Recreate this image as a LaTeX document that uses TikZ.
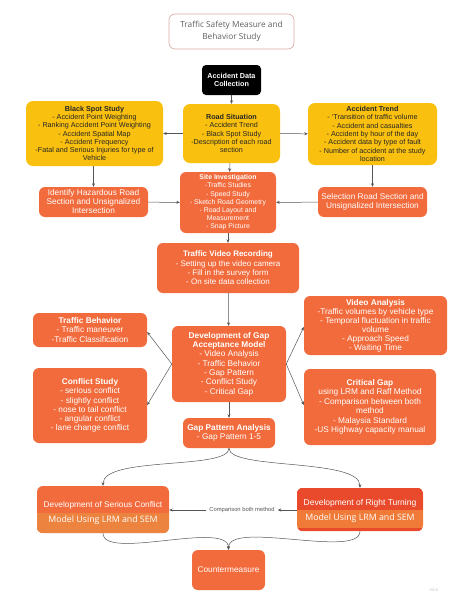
\documentclass[tikz,border=0pt]{standalone}
\usepackage{fontspec}
\setmainfont{Liberation Sans}
\newfontfamily\osans{Open Sans}
\usetikzlibrary{arrows.meta}
\definecolor{ylw}{HTML}{F9C00F}
\definecolor{org}{HTML}{F26B3C}
\definecolor{orgb}{HTML}{EC8440}
\definecolor{redt}{HTML}{E84A2B}
\definecolor{orgr}{HTML}{F07B38}
\definecolor{lineg}{HTML}{555555}
\definecolor{ttlb}{HTML}{D8A9A0}
\definecolor{ttlt}{HTML}{606060}
\tikzset{
  ybox/.style={fill=ylw, rounded corners=7pt, align=center, inner sep=1pt, text=black!85,
    font=\fontsize{7.2}{8.3}\selectfont},
  obox/.style={fill=org, rounded corners=6pt, align=center, inner sep=1pt, text=white,
    font=\fontsize{8.3}{9.3}\selectfont},
  conn/.style={draw=lineg, line width=0.5pt, -{Stealth[length=3.5pt,width=3pt]}},
  plain/.style={draw=none, fill=none, inner sep=0pt, align=center},
}
\begin{document}
\begin{tikzpicture}[x=1pt,y=-1pt]
\useasboundingbox (0,0) rectangle (474,606);
\fill[white] (0,0) rectangle (474,606);

% title
\node[draw=ttlb, line width=0.6pt, fill=white, rounded corners=6pt, align=center, text=ttlt,
  font=\osans\fontsize{8.3}{12}\selectfont, minimum width=125pt, minimum height=35pt]
  (title) at (231.5,31.5) {Traffic Safety Measure and\\Behavior Study};

% accident data collection
\node[fill=black, rounded corners=4pt, align=center, text=white, inner sep=1pt,
  font=\bfseries\fontsize{7.2}{8.4}\selectfont, minimum width=59pt, minimum height=30pt]
  (adc) at (231.5,80) {Accident Data\\Collection};

% yellow boxes
\node[ybox, minimum width=137pt, minimum height=65pt] (bss) at (94.5,133.5)
  {\textbf{Black Spot Study}\\- Accident Point Weighting\\- Ranking Accident Point Weighting\\- Accident Spatial Map\\- Accident Frequency\\-Fatal and Serious Injuries for type of\\Vehicle};
\node[ybox, minimum width=97pt, minimum height=59pt] (rs) at (231.5,133.5)
  {\textbf{Road Situation}\\- Accident Trend\\- Black Spot Study\\-Description of each road\\section};
\node[ybox, minimum width=129pt, minimum height=62pt] (at) at (372.5,134)
  {\textbf{Accident Trend}\\- ‘Transition of traffic volume\\- Accident and casualties\\- Accident by hour of the day\\- Accident data by type of fault\\- Number of accident at the study\\location};

% second row
\node[obox, font=\fontsize{8.3}{9}\selectfont, minimum width=109pt, minimum height=30pt] (ih) at (93.5,202)
  {Identify Hazardous Road\\Section and Unsignalized\\Intersection};
\node[obox, font=\fontsize{6.9}{8.2}\selectfont, minimum width=96pt, minimum height=61pt] (si) at (228,202.5)
  {\textbf{Site Investigation}\\-Traffic Studies\\- Speed Study\\- Sketch Road Geometry\\- Road Layout and\\Measurement\\- Snap Picture};
\node[obox, font=\fontsize{8.3}{9}\selectfont, minimum width=109pt, minimum height=30pt] (sel) at (372.5,202)
  {Selection Road Section and\\Unsignalized Intersection};

\node[obox, font=\fontsize{8}{9.3}\selectfont, minimum width=142pt, minimum height=50pt] (tvr) at (228,268)
  {\textbf{Traffic Video Recording}\\- Setting up the video camera\\- Fill in the survey form\\- On site data collection};

% middle
\node[obox, minimum width=114pt, minimum height=34pt] (tb) at (90,330)
  {\textbf{Traffic Behavior}\\- Traffic maneuver\\-Traffic Classification};
\node[obox, minimum width=114pt, minimum height=75pt] (cs) at (90,405.5)
  {\textbf{Conflict Study}\\- serious conflict\\- slightly conflict\\- nose to tail conflict\\- angular conflict\\- lane change conflict};
\node[obox, minimum width=114pt, minimum height=76pt] (dga) at (229,364)
  {\textbf{Development of Gap}\\\textbf{Acceptance Model}\\- Video Analysis\\- Traffic Behavior\\- Gap Pattern\\- Conflict Study\\- Critical Gap};
\node[obox, minimum width=92pt, minimum height=30pt] (gpa) at (229,433)
  {\textbf{Gap Pattern Analysis}\\- Gap Pattern 1-5};
\node[obox, font=\fontsize{8.3}{9}\selectfont, minimum width=143pt, minimum height=59pt] (va) at (375.5,325.5)
  {\textbf{Video Analysis}\\-Traffic volumes by vehicle type\\- Temporal fluctuation in traffic\\volume\\- Approach Speed\\- Waiting Time};
\node[obox, font=\fontsize{8.3}{9.5}\selectfont, minimum width=132pt, minimum height=76pt] (cg) at (370,407)
  {\textbf{Critical Gap}\\using LRM and Raff Method\\- Comparison between both\\method\\- Malaysia Standard\\-US Highway capacity manual};

% bottom two-tone boxes
\node[fill=org, rounded corners=6pt, minimum width=132pt, minimum height=47pt, inner sep=0pt] (dsc) at (103,509.5) {};
\begin{scope}
  \clip[rounded corners=6pt] (dsc.south west) rectangle (dsc.north east);
  \fill[orgb] (dsc.south west) rectangle ([yshift=-3pt]dsc.east);
\end{scope}
\node[plain, text=white, font=\fontsize{8.3}{9}\selectfont] (dsc1) at (103,505) {Development of Serious Conflict};
\node[plain, text=white, font=\osans\fontsize{8.8}{9}\selectfont] (dsc2) at (103,520) {Model Using LRM and SEM};

\node[fill=orgr, rounded corners=6pt, minimum width=126pt, minimum height=43pt, inner sep=0pt] (drt) at (360,509.5) {};
\begin{scope}
  \clip[rounded corners=6pt] (drt.south west) rectangle (drt.north east);
  \fill[redt] (drt.north west) rectangle (drt.east);
  \fill[redt] ([yshift=3pt]drt.south west) rectangle (drt.south east);
\end{scope}
\node[plain, text=white, font=\fontsize{8.5}{9}\selectfont] (drt1) at (360,503) {Development of Right Turning};
\node[plain, text=white, font=\osans\fontsize{8.8}{9}\selectfont] (drt2) at (360,518) {Model Using LRM and SEM};

\node[obox, minimum width=73pt, minimum height=40pt] (cm) at (228.5,570) {Countermeasure};

\node[plain, text=lineg, font=\fontsize{5.8}{6}\selectfont, fill=white, inner xsep=3pt] (cmp) at (242,510) {Comparison both method};
\node[plain, text=black!20, font=\fontsize{4.5}{5}\selectfont] (miro) at (434,590) {miro};

% connectors
\draw[conn] (adc) -- (rs);
\draw[conn] (rs) -- (bss);
\draw[conn] (rs) -- (at);
\draw[conn] (bss.south -| ih.north) -- (ih.north);
\draw[conn] (at.south -| sel.north) -- (sel.north);
\draw[conn] (rs) -- (si);
\draw[conn] (ih) -- (si);
\draw[conn] (sel) -- (si);
\draw[conn] (si) -- (tvr);
\draw[conn] (tvr) -- (dga);
\draw[conn] (dga.west) -- (tb.east |- 0,332);
\draw[conn] (dga.west) -- (cs.east |- 0,405);
\draw[conn] (dga.east) -- (va.west |- 0,327);
\draw[conn] (dga.east) -- (cg.west |- 0,405);
\draw[conn] (dga) -- (gpa);
\draw[conn] (gpa.south) .. controls +(0,22) and +(0,-30) .. (dsc.north);
\draw[conn] (gpa.south) .. controls +(0,22) and +(0,-30) .. (drt.north);
\draw[conn] (drt.west |- cmp) -- (cmp.east);
\draw[conn] (cmp.west) -- (dsc.east |- cmp);
\draw[conn] (dsc.south) .. controls +(0,28) and +(0,-30) .. (cm.north);
\draw[conn] (drt.south) .. controls +(0,28) and +(0,-30) .. (cm.north);
\end{tikzpicture}
\end{document}
